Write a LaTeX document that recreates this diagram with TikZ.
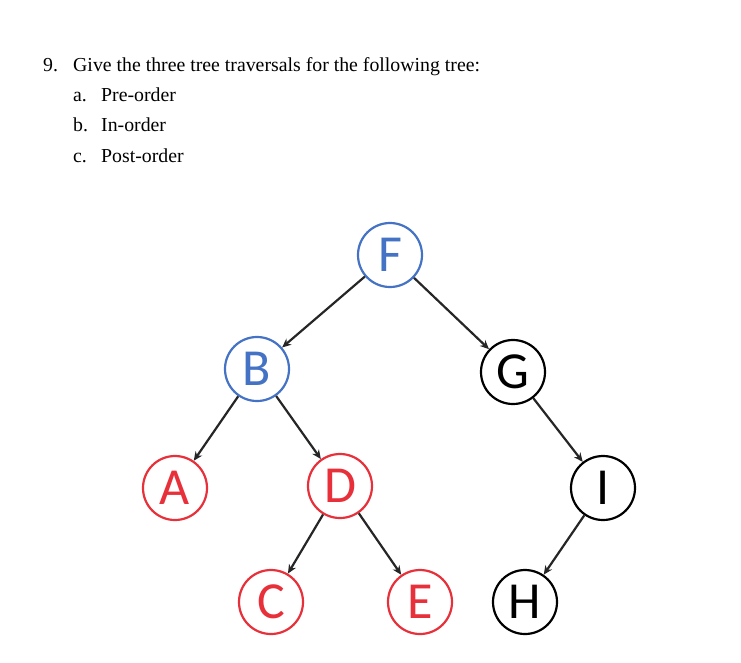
\documentclass[tikz,border=0pt]{standalone}
\usepackage{fontspec}
\setmainfont{Liberation Serif}
\newfontfamily\nodefont{Carlito}
\usetikzlibrary{arrows.meta}
\definecolor{tblue}{RGB}{68,114,196}
\definecolor{tred}{RGB}{232,48,58}
\begin{document}
\begin{tikzpicture}[x=1pt,y=-1pt,
  tn/.style={circle,draw,line width=2.2pt,fill=white,minimum size=64pt,inner sep=0pt,font=\nodefont\fontsize{52}{52}\selectfont},
  bn/.style={tn,draw=tblue,text=tblue},
  rn/.style={tn,draw=tred,text=tred},
  kn/.style={tn,draw=black,text=black},
  edge/.style={line width=2.2pt,draw=black!85,-{Stealth[length=9pt,width=8pt]},shorten >=0pt},
  qt/.style={anchor=base west,inner sep=0pt,font=\fontsize{19.8}{22}\selectfont}]
\useasboundingbox (0,0) rectangle (741,662);
\node[qt] (q9) at (43,71) {9.};
\node[qt] (qt) at (73,71) {Give the three tree traversals for the following tree:};
\node[qt] (la) at (73,101) {a.};
\node[qt] (ta) at (101,101) {Pre-order};
\node[qt] (lb) at (73,131) {b.};
\node[qt] (tb) at (101,131) {In-order};
\node[qt] (lc) at (73,162) {c.};
\node[qt] (tc) at (101,162) {Post-order};
\node[bn] (F) at (390,255) {F};
\node[bn] (B) at (257,369) {B};
\node[kn] (G) at (513,372) {G};
\node[rn] (A) at (175,488) {A};
\node[rn] (D) at (340,486) {D};
\node[kn] (I) at (603,488) {I};
\node[rn] (C) at (271,602) {C};
\node[rn] (E) at (420,602) {E};
\node[kn] (H) at (525,602) {H};
\draw[edge] (F) -- (B);
\draw[edge] (F) -- (G);
\draw[edge] (B) -- (A);
\draw[edge] (B) -- (D);
\draw[edge] (G) -- (I);
\draw[edge] (D) -- (C);
\draw[edge] (D) -- (E);
\draw[edge] (I) -- (H);
\end{tikzpicture}
\end{document}
